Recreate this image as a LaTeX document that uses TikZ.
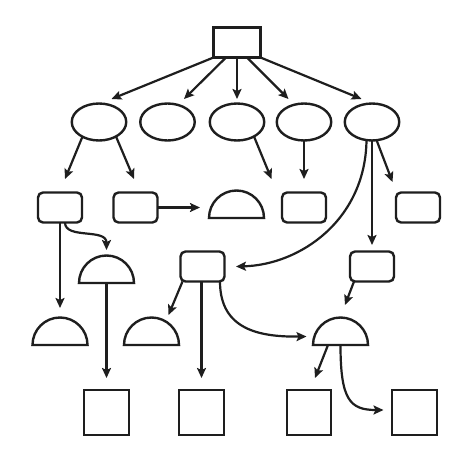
\documentclass[tikz,border=0pt]{standalone}
\usetikzlibrary{arrows.meta,calc,shapes.geometric}
\definecolor{ink}{HTML}{1E1E1E}
\begin{document}
\begin{tikzpicture}[x=1pt,y=-1pt,
  plainbox/.style={draw=ink, line width=2.4pt, rectangle, minimum width=47pt, minimum height=30pt, inner sep=0pt, outer sep=0pt},
  oval/.style={draw=ink, line width=2.4pt, ellipse, minimum width=54.5pt, minimum height=37pt, inner sep=0pt, outer sep=0pt},
  roundbox/.style={draw=ink, line width=2.4pt, rectangle, rounded corners=5pt, minimum width=44pt, minimum height=30pt, inner sep=0pt, outer sep=0pt},
  squarebox/.style={draw=ink, line width=2.4pt, rectangle, minimum size=44.5pt, inner sep=0pt, outer sep=0pt},
  halfanchor/.style={circle, minimum size=55pt, inner sep=0pt, outer sep=0pt, draw=none},
  halfdisk/.style={draw=ink, line width=2.4pt, line join=miter},
  conn/.style={draw=ink, line width=2.2pt, -{Stealth[length=10pt,width=9pt,inset=2pt]}}
]
\fill[white] (0,0) rectangle (474,474);
\useasboundingbox (0,0) rectangle (474,474);

% top
\node[plainbox] (top) at (237,42.5) {};
% ellipses
\node[oval] (e1) at (99,122) {};
\node[oval] (e2) at (167.5,122) {};
\node[oval] (e3) at (237,122) {};
\node[oval] (e4) at (304,122) {};
\node[oval] (e5) at (372,122) {};
% rounded boxes
\node[roundbox] (r1) at (60,207.5) {};
\node[roundbox] (r2) at (135.5,207.5) {};
\node[roundbox] (r3) at (304,207.5) {};
\node[roundbox] (r4) at (418,207.5) {};
\node[roundbox] (r5) at (202.5,266.5) {};
\node[roundbox] (r6) at (372,266.5) {};
% half disks
\node[halfanchor] (hd1) at (236.5,218) {};
\node[halfanchor] (hd2) at (106.5,283) {};
\node[halfanchor] (hd3) at (60,345) {};
\node[halfanchor] (hd4) at (151.5,345) {};
\node[halfanchor] (hd5) at (340.5,345) {};
\foreach \h in {hd1,hd2,hd3,hd4,hd5}
  \draw[halfdisk] (\h.west) arc[start angle=180,end angle=0,radius=27.5pt] -- cycle;
% squares
\node[squarebox] (s1) at (106.5,412.5) {};
\node[squarebox] (s2) at (201.5,412.5) {};
\node[squarebox] (s3) at (309,412.5) {};
\node[squarebox] (s4) at (414.5,412.5) {};

% connectors from top
\draw[conn] (top.south west) -- ($(e1)+(12.5,-23)$);
\draw[conn] ($(top.south)+(-11,0)$) -- ($(e2)+(16.5,-23)$);
\draw[conn] (top.south) -- ($(e3)+(0,-23)$);
\draw[conn] ($(top.south)+(10,0)$) -- ($(e4)+(-15.5,-23)$);
\draw[conn] (top.south east) -- ($(e5)+(-10.5,-23)$);

% from ellipses
\draw[conn] ($(e1)+(-16.5,14.5)$) -- ($(r1)+(5,-28.5)$);
\draw[conn] ($(e1)+(17,14.5)$) -- ($(r2)+(-1.5,-28.5)$);
\draw[conn] ($(e3)+(17,14.5)$) -- ($(r3)+(-32.5,-28.5)$);
\draw[conn] (e4.south) -- ($(r3)+(0,-28.5)$);
\draw[conn] (e5.south) -- ($(r6)+(0,-21.5)$);
\draw[conn] ($(e5)+(4.5,18)$) -- ($(r4)+(-25.5,-25.5)$);
\draw[conn] ($(e5)+(-5.5,18)$) .. controls ($(e5)+(-6.5,98)$) and ($(r5)+(97.5,-1.5)$) .. ($(r5)+(33.5,0)$);

% row 2
\draw[conn] (r2.east) -- ($(hd1)+(-36.5,-10.5)$);
\draw[conn] ($(r1.south)+(5,0)$) .. controls ($(r1.south)+(5,17)$) and ($(hd2)+(0,-55)$) .. ($(hd2)+(0,-33)$);
\draw[conn] (r1.south) -- ($(hd3)+(0,-37)$);
\draw[conn] (hd2.center) -- ($(s1)+(0,-34.5)$);

% row 3
\draw[conn] ($(r5.south west)+(2,0)$) -- ($(hd4)+(17,-30)$);
\draw[conn] (r5.south -| s2) -- ($(s2)+(0,-34.5)$);
\draw[conn] ($(r5.south east)+(-4.5,0)$) .. controls ($(r5.south east)+(-4.5,48.5)$) and ($(hd5)+(-80.5,-8)$) .. ($(hd5)+(-34,-8.5)$);
\draw[conn] ($(r6.south west)+(4,0)$) -- ($(hd5)+(4.5,-40)$);
\draw[conn] ($(hd5)+(-12.5,0)$) -- ($(s3)+(6,-34.5)$);
\draw[conn] (hd5.center) .. controls ($(hd5)+(0,55)$) and ($(s4)+(-64.5,-2.5)$) .. ($(s4)+(-31,-2.5)$);
\end{tikzpicture}
\end{document}
